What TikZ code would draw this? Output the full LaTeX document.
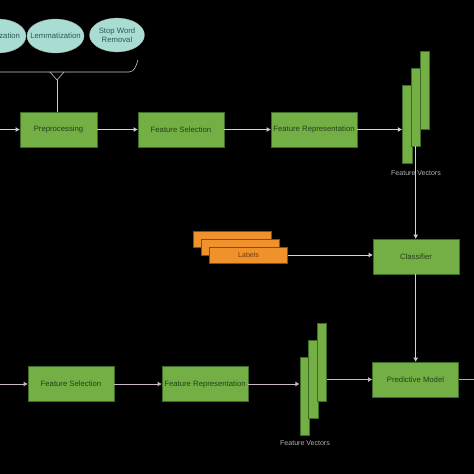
\documentclass[tikz,border=0pt]{standalone}
\usepackage{fontspec}
\setmainfont{Liberation Sans}
\usetikzlibrary{arrows.meta}
\usetikzlibrary{shapes.geometric}
\definecolor{BoxGreen}{HTML}{74AF45}
\definecolor{EdgeGreen}{HTML}{3E6B25}
\definecolor{TextGreen}{HTML}{24401A}
\definecolor{LightTeal}{HTML}{A9DCD3}
\definecolor{TextTeal}{HTML}{2C5A55}
\definecolor{DarkOrange}{HTML}{F0922B}
\definecolor{EdgeOrange}{HTML}{8A4A10}
\definecolor{TextOrange}{HTML}{6B3A10}
\definecolor{FlowBlue}{HTML}{C3DAE4}
\definecolor{TipBlue}{HTML}{8FC3DA}
\definecolor{FlowPink}{HTML}{C9B9C9}
\definecolor{TipPink}{HTML}{B79AB7}
\tikzset{
  stage/.style={draw=EdgeGreen, fill=BoxGreen, text=TextGreen, minimum width=4.3cm,
    minimum height=1.75cm, inner sep=1pt, font=\fontsize{11}{13}\selectfont},
  step oval/.style={ellipse, draw=gray!70, fill=LightTeal, text=TextTeal, minimum width=2.75cm,
    minimum height=1.7cm, inner xsep=-7pt, inner ysep=0pt, align=center,
    font=\fontsize{11}{12.5}\selectfont},
  vecbar/.style={draw=EdgeGreen, fill=BoxGreen, minimum width=0.47cm, minimum height=3.9cm, inner sep=0pt},
  labelbox/.style={draw=EdgeOrange, fill=DarkOrange, text=TextOrange, minimum width=3.9cm,
    minimum height=0.8cm, inner sep=0pt, font=\fontsize{10}{11}\selectfont},
  veclabel/.style={text=gray!60, font=\fontsize{10}{11}\selectfont},
  flow/.style={draw=FlowBlue, line width=1.3pt, -{Latex[length=6pt,width=7pt,fill=TipBlue]}},
  flowb/.style={draw=FlowPink, line width=1.3pt, -{Latex[length=6pt,width=7pt,fill=TipPink]}},
  brace/.style={draw=gray!40, line width=0.8pt}
}
\begin{document}
\begin{tikzpicture}[x=0.05cm, y=-0.05cm]
  \useasboundingbox (0,0) rectangle (474,474);
  \fill[black] (0,0) rectangle (474,474);
  \clip (0,0) rectangle (474,474);

  % text preprocessing steps
  \node[step oval] (Token) at (-1.5,36) {Tokenization};
  \node[step oval] (Lemma) at (55.5,36) {Lemmatization};
  \node[step oval] (StopWord) at (117,35) {Stop Word\\Removal};

  % training pipeline
  \node[stage, minimum width=3.85cm] (Preproc) at (58.5,129.5) {Preprocessing};
  \node[stage] (FeatSel) at (181,129.5) {Feature Selection};
  \node[stage] (FeatRep) at (314,129.5) {Feature Representation};

  \foreach \i in {0,1,2}{%
    \node[vecbar] (VecTop\i) at (407+8.7*\i,124-17*\i) {};
  }
  \node[veclabel] (VecTopLabel) at (416,173) {Feature Vectors};

  \foreach \i in {0,1,2}{%
    \node[labelbox] (Labels\i) at (232+8.3*\i,239+8*\i) {};
  }
  \node at (Labels2) [text=TextOrange, font=\fontsize{10}{11}\selectfont] {Labels};

  \node[stage] (Classifier) at (416,256.5) {Classifier};
  \node[stage] (PredModel) at (415.5,379.5) {Predictive Model};

  % test pipeline
  \node[stage] (FeatSelB) at (71,384) {Feature Selection};
  \node[stage] (FeatRepB) at (205,384) {Feature Representation};

  \foreach \i in {0,1,2}{%
    \node[vecbar] (VecBot\i) at (304.5+8.7*\i,396-16.8*\i) {};
  }
  \node[veclabel] (VecBotLabel) at (305,443) {Feature Vectors};

  % brace over the steps
  \coordinate (BraceL) at (0,72);
  \coordinate (BraceR) at (129,72);
  \coordinate (BraceTip) at (138,60);
  \coordinate (BraceMid) at (57,80);
  \draw[brace] (BraceL) -- (BraceR) to[out=0,in=-110] (BraceTip);
  \draw[brace] (50,72) -- (BraceMid) -- (64,72);
  \draw[brace] (BraceMid) -- (BraceMid |- Preproc.north);

  % connectors
  \coordinate (InTop) at (0,129.5);
  \coordinate (InBot) at (0,384);
  \coordinate (OutPM) at (474,379.5);
  \draw[flow] (InTop) -- (Preproc);
  \draw[flow] (Preproc) -- (FeatSel);
  \draw[flow] (FeatSel) -- (FeatRep);
  \draw[flow] (FeatRep) -- (FeatRep.east -| VecTop0.west);
  \draw[flow] (VecTop1.south) -- (VecTop1.south |- Classifier.north);
  \draw[flow] (Labels2.east) -- (Labels2.east -| Classifier.west);
  \draw[flow] (Classifier.south -| VecTop1.south) -- (PredModel.north -| VecTop1.south);

  \draw[flowb] (InBot) -- (FeatSelB);
  \draw[flowb] (FeatSelB) -- (FeatRepB);
  \draw[flowb] (FeatRepB) -- (FeatRepB.east -| VecBot0.west);
  \draw[flowb] (VecBot2.east |- PredModel.west) -- (PredModel.west);
  \draw[draw=gray!60, line width=0.8pt] (OutPM) -- (PredModel.east);
\end{tikzpicture}
\end{document}
